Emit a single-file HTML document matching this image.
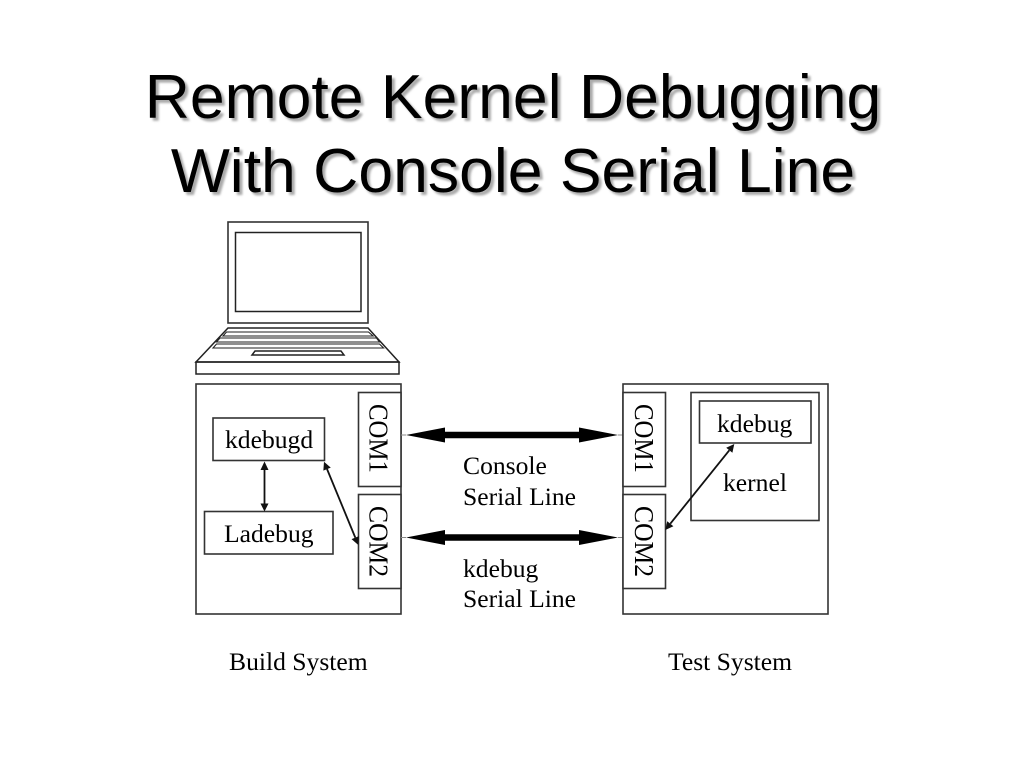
<!DOCTYPE html>
<html>
<head>
<meta charset="utf-8">
<style>
html,body{margin:0;padding:0;background:#fff;width:1024px;height:768px;overflow:hidden}
svg{display:block}
.t{font-family:"Liberation Sans",sans-serif;font-size:62.5px;text-anchor:middle}
.s{font-family:"Liberation Serif",serif;font-size:25.6px;fill:#000}
.b{fill:#fff;stroke:#333;stroke-width:1.6}
.l{fill:none;stroke:#222;stroke-width:1.5}
.k{fill:none;stroke:#222;stroke-width:1.1}
</style>
</head>
<body>
<svg width="1024" height="768" viewBox="0 0 1024 768" xmlns="http://www.w3.org/2000/svg">
<defs><filter id="bl" x="-5%" y="-5%" width="110%" height="110%"><feGaussianBlur stdDeviation="1"/></filter></defs>
<g filter="url(#bl)" fill="#aaa">
<text class="t" x="516" y="121">Remote Kernel Debugging</text>
<text class="t" x="516" y="195">With Console Serial Line</text>
</g>
<g fill="#000">
<text class="t" x="513" y="118">Remote Kernel Debugging</text>
<text class="t" x="513" y="192">With Console Serial Line</text>
</g>

<!-- laptop -->
<rect class="b" x="228" y="222" width="140" height="101"/>
<rect class="l" x="235.5" y="232.5" width="125.5" height="79"/>
<path class="l" d="M228 328H368L399 362H196Z"/>
<rect class="l" x="196" y="362" width="203" height="12"/>
<path class="k" d="M226.5 332H368.5L373 336H223Z"/>
<path class="k" d="M220 338H376.5L379.5 342H216.5Z"/>
<path class="k" d="M216.5 344H379.5L383.5 348H213Z"/>
<path class="l" d="M255 351H341L344 355H252Z"/>

<!-- build system -->
<rect class="b" x="196" y="384" width="205" height="230"/>
<rect class="b" x="358.5" y="392.5" width="42.5" height="94"/>
<rect class="b" x="358.5" y="494.5" width="42.5" height="94"/>
<rect class="b" x="213" y="418" width="111.5" height="42.5"/>
<rect class="b" x="204.5" y="511.5" width="128.5" height="42.5"/>
<text class="s" x="225" y="448">kdebugd</text>
<text class="s" x="224" y="542">Ladebug</text>
<text class="s" transform="translate(369.5,404) rotate(90) scale(0.97,1.08)">COM1</text>
<text class="s" transform="translate(369.5,506) rotate(90) scale(1,1.08)">COM2</text>

<!-- internal arrows -->
<path d="M264.5 466V507" stroke="#111" stroke-width="1.8"/>
<path d="M264.5 461.5L260.5 470H268.5Z M264.5 511.5L260.5 503.5H268.5Z" fill="#111"/>
<path d="M327 469L355.3 537.6" stroke="#111" stroke-width="1.8"/>
<path d="M324 461.7L330.75 467.6L323.35 470.6Z M358.3 545L358.95 536.1L351.55 539.1Z" fill="#111"/>

<!-- thick arrows -->
<path d="M406 435L445 427.5V431.7H579V427.5L618 435L579 442.5V438.3H445V442.5Z" fill="#000"/>
<path d="M406 537.5L445 530V534.2H579V530L618 537.5L579 545V540.8H445V545Z" fill="#000"/>
<path d="M401 435H406M618 435H623M401 537.5H406M618 537.5H623" stroke="#888" stroke-width="1"/>

<text class="s" x="463" y="474">Console</text>
<text class="s" x="463" y="505">Serial Line</text>
<text class="s" x="463" y="577">kdebug</text>
<text class="s" x="463" y="607">Serial Line</text>

<!-- test system -->
<rect class="b" x="623" y="384" width="205" height="230"/>
<rect class="b" x="623" y="392.5" width="42.5" height="94"/>
<rect class="b" x="623" y="494.5" width="42.5" height="94"/>
<rect class="b" x="691" y="392.5" width="128" height="128"/>
<rect class="b" x="699.5" y="401" width="111.5" height="42"/>
<text class="s" x="717" y="432">kdebug</text>
<text class="s" x="723" y="491">kernel</text>
<text class="s" transform="translate(635,404) rotate(90) scale(0.97,1.08)">COM1</text>
<text class="s" transform="translate(635,506) rotate(90) scale(1,1.08)">COM2</text>
<path d="M729.3 450.3L670.3 523.7" stroke="#111" stroke-width="1.8"/>
<path d="M734.3 444L732.4 452.8L726.2 447.8Z M665.3 530L673.4 526.2L667.2 521.2Z" fill="#111"/>

<text class="s" x="229" y="670">Build System</text>
<text class="s" x="668" y="670">Test System</text>
</svg>
</body>
</html>
